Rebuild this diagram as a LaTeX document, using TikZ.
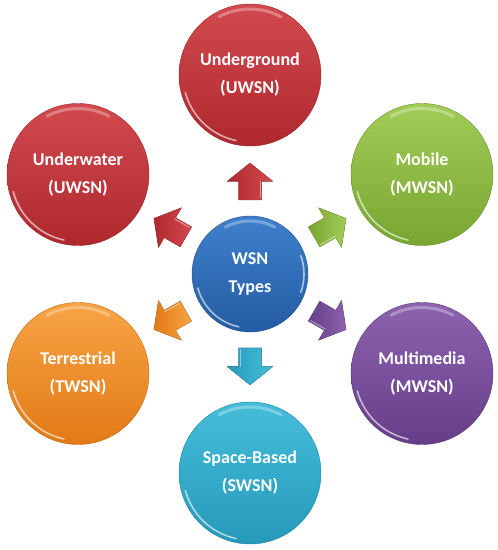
\documentclass[tikz,border=0pt]{standalone}
\usepackage{fontspec}
\setmainfont{Carlito}
\usetikzlibrary{calc}
\definecolor{redA}{HTML}{D24A4E}\definecolor{redB}{HTML}{AE282E}
\definecolor{grnA}{HTML}{A2CC58}\definecolor{grnB}{HTML}{78A630}
\definecolor{purA}{HTML}{8D63B0}\definecolor{purB}{HTML}{663D88}
\definecolor{orgA}{HTML}{F7A445}\definecolor{orgB}{HTML}{E27A16}
\definecolor{cyaA}{HTML}{45BEDA}\definecolor{cyaB}{HTML}{2699BB}
\definecolor{bluA}{HTML}{3F80CC}\definecolor{bluB}{HTML}{245CA2}
\tikzset{
  bubble/.style 2 args={circle, inner sep=0pt, minimum size=142pt,
    top color=#1, bottom color=#2, draw=#2!85!black, line width=0.4pt,
    text=white, align=center, font=\bfseries\fontsize{18}{28}\selectfont},
  hub/.style 2 args={bubble={#1}{#2}, minimum size=116pt},
  gloss/.style={white, opacity=.6, line width=1.6pt, line cap=round},
  sheen/.style={white, opacity=.3, line width=3pt, line cap=round},
  blockarrow/.style 2 args={left color=#1, right color=#2, draw=#2!80!black, line width=0.3pt}
}
\begin{document}
\begin{tikzpicture}[x=1pt,y=1pt]
\useasboundingbox (0,0) rectangle (498,550);
\node[hub={bluA}{bluB}] (c) at (250,276) {WSN\\Types};
\node[bubble={redA}{redB}] (ug) at (250,475) {Underground\\(UWSN)};
\node[bubble={redA}{redB}] (uw) at (78,375.5) {Underwater\\(UWSN)};
\node[bubble={grnA}{grnB}] (mo) at (422,375.5) {Mobile\\(MWSN)};
\node[bubble={orgA}{orgB}] (te) at (78,176.5) {Terrestrial\\(TWSN)};
\node[bubble={purA}{purB}] (mm) at (422,176.5) {Multimedia\\(MWSN)};
\node[bubble={cyaA}{cyaB}] (sb) at (250,77) {Space-Based\\(SWSN)};
% glossy rims
\foreach \n in {ug,uw,mo,te,mm,sb}{
  \draw[gloss] ([shift={(195:67pt)}]\n.center) arc[start angle=195, end angle=258, radius=67pt];
  \draw[sheen] ([shift={(62:66pt)}]\n.center) arc[start angle=62, end angle=118, radius=66pt];
}
\draw[gloss] ([shift={(195:54pt)}]c.center) arc[start angle=195, end angle=258, radius=54pt];
\draw[gloss] ([shift={(-20:54pt)}]c.center) arc[start angle=-20, end angle=20, radius=54pt];
\draw[sheen] ([shift={(62:53pt)}]c.center) arc[start angle=62, end angle=118, radius=53pt];
% block arrows from hub toward each type
\foreach \n/\a/\ca/\cb in {ug/90/redA/redB, uw/150/redA/redB, mo/30/grnA/grnB,
                          te/210/orgA/orgB, mm/-30/purA/purB, sb/-90/cyaA/cyaB}{
  \begin{scope}[shift={($(c)!92.5pt!(\n)$)}, rotate=\a]
    \fill[blockarrow={\cb}{\ca}] (-18.5,-11.5) -- (0,-11.5) -- (0,-23) -- (18.5,0)
      -- (0,23) -- (0,11.5) -- (-18.5,11.5) -- cycle;
    \draw[white, opacity=.45, line width=1pt] (-17,-10) -- (0.5,-10);
  \end{scope}
}
\end{tikzpicture}
\end{document}
